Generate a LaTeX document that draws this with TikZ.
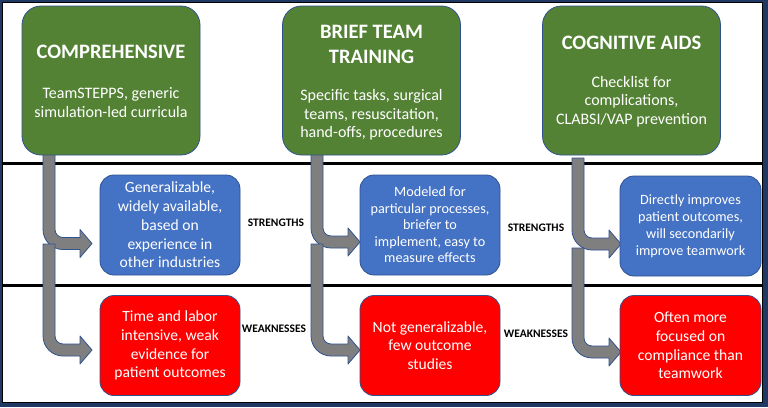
\documentclass[tikz,border=0pt]{standalone}
\usepackage{fontspec}
\setmainfont{Carlito}
\definecolor{navy}{HTML}{1F3864}
\definecolor{ggreen}{HTML}{548235}
\definecolor{bblue}{HTML}{4472C4}
\definecolor{rred}{HTML}{FF0000}
\definecolor{outl}{HTML}{2F528F}
\definecolor{agray}{HTML}{7F7F7F}
\newcommand\bentarr[4]{%
  \filldraw[arrowshape] (#1,#2) -- ({#1+12},#2) -- ({#1+12},{#3-14})
   .. controls ({#1+12},{#3-9.6}) and ({#1+15.6},{#3-6}) .. ({#1+20},{#3-6})
   -- ({#4-12},{#3-6}) -- ({#4-12},{#3-14}) -- (#4,#3) -- ({#4-12},{#3+14})
   -- ({#4-12},{#3+6}) -- ({#1+20},{#3+6})
   .. controls ({#1+9},{#3+6}) and (#1,{#3-3}) .. (#1,{#3-14}) -- cycle;}
\begin{document}
\begin{tikzpicture}[x=1pt,y=-1pt,
  gbox/.style={draw=outl, line width=0.8pt, fill=ggreen, rounded corners=19pt,
    minimum width=178pt, minimum height=149pt, inner sep=0pt},
  sbox/.style={draw=outl, line width=0.8pt, fill=bblue, rounded corners=14pt,
    minimum width=140pt, minimum height=100pt, text=white, align=center,
    font=\fontsize{15.6}{18.7}\selectfont, inner sep=0pt},
  wbox/.style={sbox, fill=rred},
  ttl/.style={text=white, font=\bfseries\fontsize{20.5}{25}\selectfont, align=center},
  bdy/.style={text=white, font=\fontsize{16}{18.5}\selectfont, align=center},
  lbl/.style={font=\bfseries\fontsize{11.5}{13}\selectfont},
  arrowshape/.style={fill=agray, draw=outl, line width=0.8pt, line join=round}]
\useasboundingbox (0,0) rectangle (768,407);
\fill[navy] (0,0) rectangle (768,407);
\fill[white] (2,2) rectangle (763,403);
\draw[black, line width=0.8pt] (2.4,2.4) rectangle (762.6,402.6);
\draw[black, line width=3pt] (2,163) -- (763,163);
\draw[black, line width=3pt] (2,285.5) -- (763,285.5);
% arrows
\bentarr{43}{150}{243.5}{92}
\bentarr{43}{244}{350}{92}
\bentarr{311}{150}{242}{360}
\bentarr{311}{244}{350}{360}
\bentarr{572}{158}{244}{621}
\bentarr{572}{248}{352}{621}
% green boxes
\node[gbox] (g1) at (111,80.5) {};
\node[gbox] (g2) at (371.5,80.5) {};
\node[gbox] (g3) at (631.5,80.5) {};
\node[ttl] (g1t) at (111,52) {COMPREHENSIVE};
\node[bdy] (g1b) at (111,102.5) {TeamSTEPPS, generic\\simulation-led curricula};
\node[ttl] (g2t) at (371.5,44.5) {BRIEF TEAM\\TRAINING};
\node[bdy] (g2b) at (371.5,115) {Specific tasks, surgical\\teams, resuscitation,\\hand-offs, procedures};
\node[ttl] (g3t) at (631.5,43) {COGNITIVE AIDS};
\node[bdy] (g3b) at (631.5,101.5) {Checklist for\\complications,\\CLABSI/VAP prevention};
% strengths
\node[sbox] (s1) at (170,225) {Generalizable,\\widely available,\\based on\\experience in\\other industries};
\node[sbox, font=\fontsize{14.2}{16.5}\selectfont] (s2) at (430,225) {Modeled for\\particular processes,\\briefer to\\implement, easy to\\measure effects};
\node[sbox, minimum width=141pt, font=\fontsize{14.2}{17}\selectfont] (s3) at (690.5,226) {Directly improves\\patient outcomes,\\will secondarily\\improve teamwork};
% weaknesses
\node[wbox] (w1) at (170,345.5) {Time and labor\\intensive, weak\\evidence for\\patient outcomes};
\node[wbox] (w2) at (430,345.5) {Not generalizable,\\few outcome\\studies};
\node[wbox, minimum width=141pt] (w3) at (690.5,345.5) {Often more\\focused on\\compliance than\\teamwork};
% labels
\node[lbl] (l1) at (276,223) {STRENGTHS};
\node[lbl] (l2) at (274,329) {WEAKNESSES};
\node[lbl] (l3) at (536,228) {STRENGTHS};
\node[lbl] (l4) at (536,334) {WEAKNESSES};
\end{tikzpicture}
\end{document}
